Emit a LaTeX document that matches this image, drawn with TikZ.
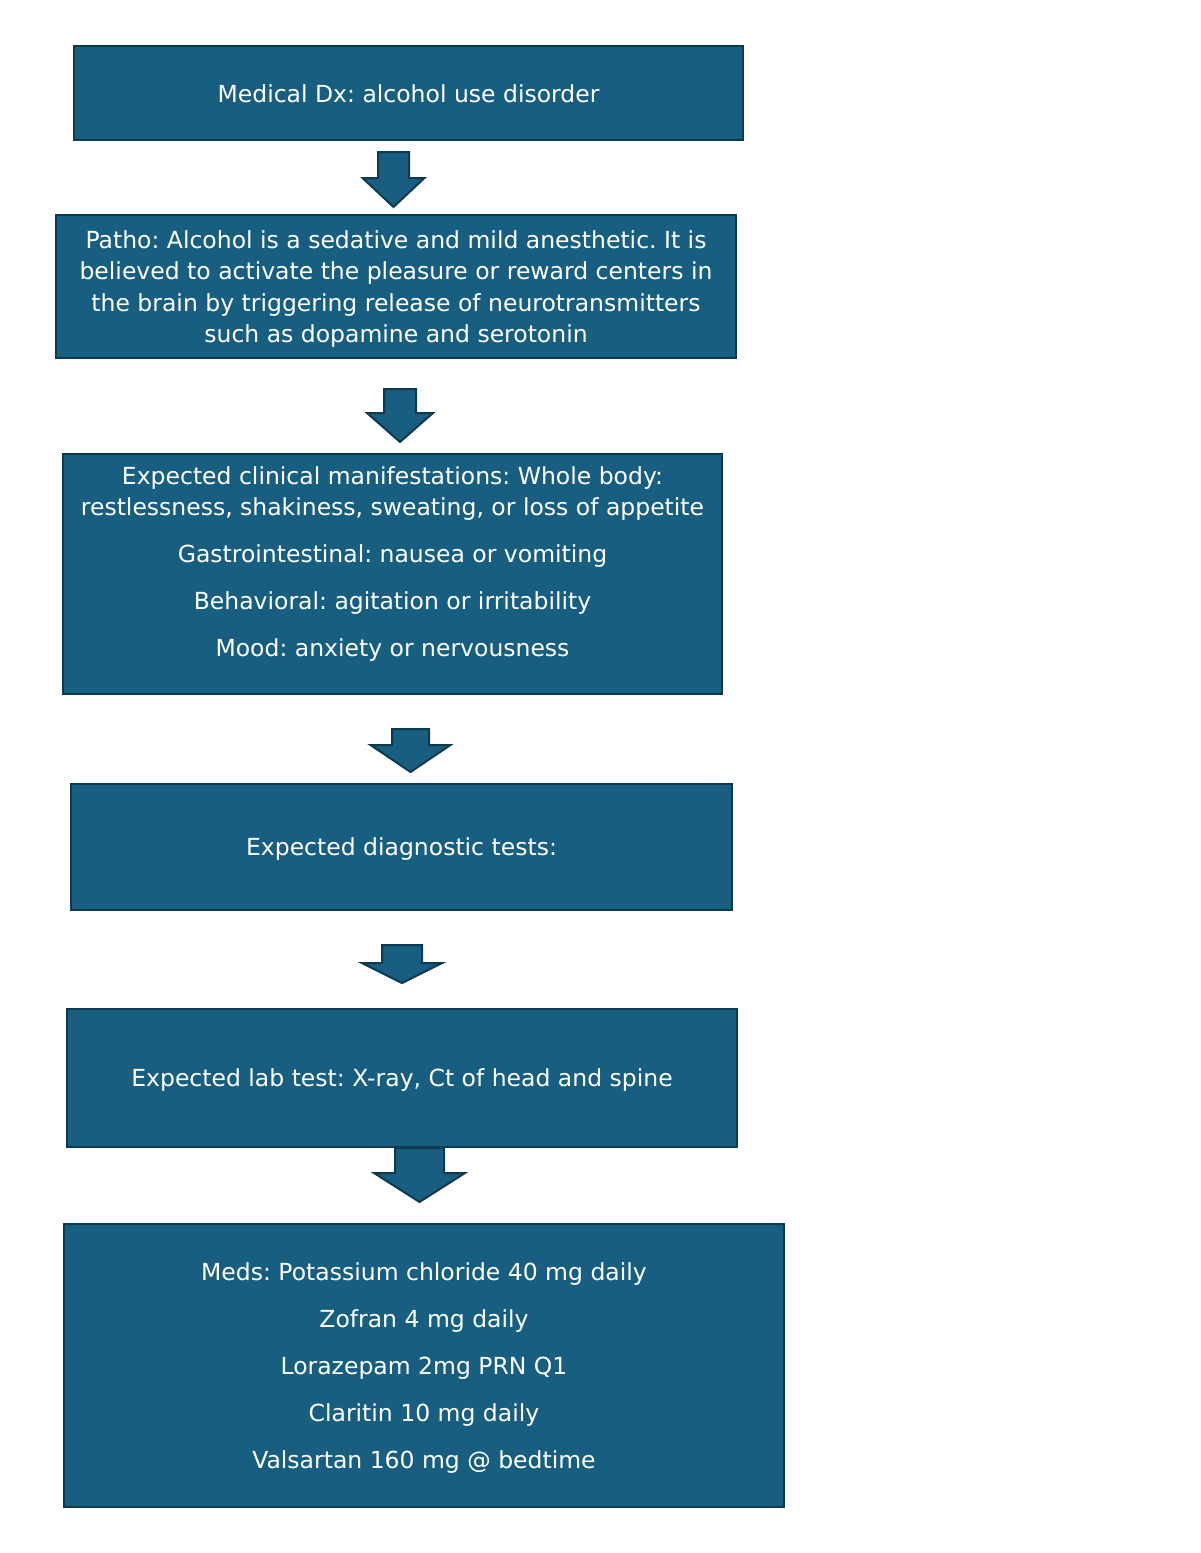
\documentclass[tikz,border=0pt]{standalone}
\usepackage{fontspec}
\setmainfont{DejaVu Sans}
\frenchspacing
\definecolor{boxfill}{HTML}{175E80}
\definecolor{boxline}{HTML}{0E3A50}
\tikzset{
  box/.style={draw=boxline, fill=boxfill, line width=2pt, inner sep=0pt},
  txt/.style={text=white, align=center, inner sep=0pt, font=\fontsize{23.5}{31.5}\selectfont},
  arr/.style={draw=boxline, fill=boxfill, line width=2pt, line join=miter},
}
\newcommand\blockarr[5]{%
  \draw[arr] (#1) ++(-#2,0) -- ++(0,#3) -- ++({#2-#4},0) -- ++(#4,#5) -- ++(#4,-#5) -- ++({#2-#4},0) -- ++(0,-#3) -- cycle;}
\begin{document}
\begin{tikzpicture}[x=1pt,y=-1pt]
\useasboundingbox (0,0) rectangle (1200,1553);
% boxes
\node[box, minimum width=669pt, minimum height=94pt] (b1) at (408.5,93) {};
\node[txt] (t1) at ([yshift=-1pt]b1.center) {Medical Dx: alcohol use disorder};
\node[box, minimum width=680pt, minimum height=143pt] (b2) at (396,286.5) {};
\node[txt] (t2) at ([yshift=-2.5pt]b2.center) {Patho: Alcohol is a sedative and mild anesthetic. It is\\ believed to activate the pleasure or reward centers in\\ the brain by triggering release of neurotransmitters\\ such as dopamine and serotonin};
\node[box, minimum width=659pt, minimum height=240pt] (b3) at (392.5,574) {};
\node[txt, anchor=north] (t3) at ([yshift=-13pt]b3.north) {Expected clinical manifestations: Whole body:\\ restlessness, shakiness, sweating, or loss of appetite\\[15pt] Gastrointestinal: nausea or vomiting\\[15.5pt] Behavioral: agitation or irritability\\[15.5pt] Mood: anxiety or nervousness};
\node[box, minimum width=661pt, minimum height=126pt] (b4) at (401.5,847) {};
\node[txt] (t4) at ([yshift=-2pt]b4.center) {Expected diagnostic tests:};
\node[box, minimum width=670pt, minimum height=138pt] (b5) at (402,1078) {};
\node[txt] (t5) at ([yshift=-2pt]b5.center) {Expected lab test: X-ray, Ct of head and spine};
\node[box, minimum width=720pt, minimum height=283pt] (b6) at (424,1365.5) {};
\node[txt] (t6) at ([yshift=-2pt]b6.center) {Meds: Potassium chloride 40 mg daily\\[15.5pt] Zofran 4 mg daily\\[15.5pt] Lorazepam 2mg PRN Q1\\[15.5pt] Claritin 10 mg daily\\[15.5pt] Valsartan 160 mg @ bedtime};
% arrows
\coordinate (a1) at (393.5,152);
\coordinate (a2) at (400,389);
\coordinate (a3) at (410.5,729);
\coordinate (a4) at (402,945);
\coordinate (a5) at (419.5,1148);
\blockarr{a1}{15.5}{26}{31}{29}
\blockarr{a2}{16}{24}{33}{29}
\blockarr{a3}{18.5}{16}{40}{27}
\blockarr{a4}{20}{18}{40}{20}
\blockarr{a5}{24.5}{25}{45.5}{29}
\end{tikzpicture}
\end{document}
